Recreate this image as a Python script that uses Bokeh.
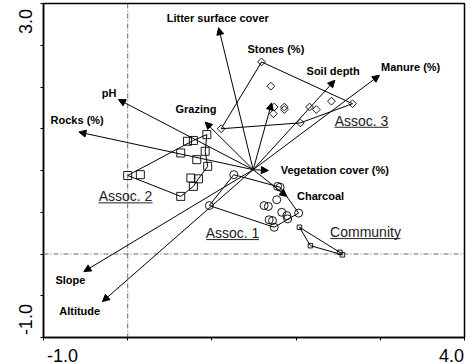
import numpy as np
from bokeh.plotting import figure
from bokeh.models import ColumnDataSource, Arrow, NormalHead, Span, FixedTicker, LinearAxis, Range1d
from bokeh.core.properties import value
from bokeh.embed import file_html
from bokeh.resources import INLINE

# ---------------- data ----------------
origin_x = 1.49
origin_y = 1.01

var_names = ["Litter surface cover", "Stones (%)", "Soil depth", "Manure (%)", "Grazing",
             "pH", "Rocks (%)", "Vegetation cover (%)", "Charcoal", "Slope", "Altitude"]
var_x = [1.08, 1.71, 2.46, 2.99, 0.92, -0.11, -0.58, 1.67, 1.89, -0.52, -0.30]
var_y = [2.71, 1.81, 2.08, 2.14, 1.58, 1.85, 1.46, 1.00, 0.69, -0.21, -0.57]
lab_x = [1.07, 1.76, 2.44, 3.36, 0.81, -0.22, -0.60, 2.46, 2.29, -0.68, -0.57]
lab_y = [2.83, 2.46, 2.19, 2.24, 1.74, 1.93, 1.60, 1.01, 0.69, -0.31, -0.68]

assoc1_x = [1.26, 0.97, 1.78, 1.81, 1.77, 1.62, 1.67, 1.83, 1.89, 1.90, 2.03, 1.68, 1.72, 1.74]
assoc1_y = [0.95, 0.58, 0.81, 0.80, 0.65, 0.58, 0.57, 0.50, 0.46, 0.42, 0.49, 0.41, 0.40, 0.32]
assoc1_hull = [0, 3, 10, 13, 1, 0]

assoc2_x = [0.00, 0.15, 0.63, 0.63, 0.71, 0.78, 0.94, 0.92, 0.82, 0.95, 0.75, 0.84, 0.78]
assoc2_y = [0.94, 0.95, 0.69, 1.21, 1.35, 1.36, 1.43, 1.23, 1.13, 1.05, 0.91, 0.90, 0.81]
assoc2_hull = [0, 5, 6, 7, 9, 11, 12, 2, 0]

assoc3_x = [1.59, 1.70, 1.74, 1.73, 1.86, 1.86, 1.11, 2.05, 2.16, 2.24, 2.42, 2.67]
assoc3_y = [2.30, 2.01, 1.76, 1.68, 1.76, 1.73, 1.50, 1.57, 1.76, 1.73, 1.83, 1.80]
assoc3_hull = [0, 11, 7, 6, 0]

comm_x = [2.04, 2.17, 2.52, 2.55]
comm_y = [0.32, 0.10, 0.02, -0.01]
comm_hull = [0, 2, 3, 1, 0]

group_names = ["Assoc. 1", "Assoc. 2", "Assoc. 3", "Community"]
group_x = [1.245, -0.026, 2.777, 2.824]
group_y = [0.25, 0.69, 1.595, 0.262]
group_w_px = [53, 54, 54, 70]

x_ticks = [-1, 0, 1, 2, 3, 4]
y_ticks = [-1, -0.5, 0, 0.5, 1, 1.5, 2, 2.5, 3]
x_end_labels = ["-1.0", "4.0"]
y_end_labels = ["-1.0", "3.0"]

# ---------------- figure ----------------
W, H = 470, 364
BL, BR, BT, BB = 43, 6, 3, 25
FONT = "Liberation Sans"
FW = W - BL - BR
FH = H - BT - BB

p = figure(width=W, height=H, x_range=(x_ticks[0], x_ticks[-1]), y_range=(y_ticks[0], y_ticks[-1]),
           output_backend="svg", toolbar_location=None,
           min_border_left=BL, min_border_right=BR, min_border_top=BT, min_border_bottom=BB)
p.xgrid.visible = False
p.ygrid.visible = False
p.background_fill_color = "white"
p.border_fill_color = "white"
p.outline_line_color = "black"
p.outline_line_width = 1.5

p.xaxis.ticker = FixedTicker(ticks=x_ticks)
p.yaxis.ticker = FixedTicker(ticks=y_ticks)
p.axis.major_label_text_font_size = "0px"
p.axis.major_label_text_color = None
p.axis.major_label_standoff = 0
p.axis.minor_tick_line_color = None
p.axis.major_tick_in = 0
p.axis.major_tick_out = 3
p.axis.axis_line_width = 1.5
p.axis.axis_line_color = "black"
p.axis.major_tick_line_color = "black"

# pixel-unit ranges for the end labels of the axes
p.extra_x_ranges = {"px": Range1d(0, FW)}
p.extra_y_ranges = {"py": Range1d(0, FH)}
xl_pos = [19, FW - 13]
yl_pos = [18, FH - 18]
ax_b = LinearAxis(x_range_name="px", ticker=FixedTicker(ticks=xl_pos),
                  major_label_overrides={k: t for k, t in zip(xl_pos, x_end_labels)})
ax_l = LinearAxis(y_range_name="py", ticker=FixedTicker(ticks=yl_pos),
                  major_label_overrides={k: t for k, t in zip(yl_pos, y_end_labels)},
                  major_label_orientation="vertical")
for ax in (ax_b, ax_l):
    ax.axis_line_color = None
    ax.major_tick_line_color = None
    ax.minor_tick_line_color = None
    ax.major_label_standoff = 2
    ax.major_label_text_font = FONT
    ax.major_label_text_font_size = "18px"
    ax.major_label_text_color = "black"
p.add_layout(ax_b, "below")
p.add_layout(ax_l, "left")

px_x = FW / (x_ticks[-1] - x_ticks[0])
px_y = FH / (y_ticks[-1] - y_ticks[0])

# reference lines
p.add_layout(Span(location=0, dimension="height", line_color="#444444", line_width=0.8, line_dash="5 2 1 2"))
p.add_layout(Span(location=0, dimension="width", line_color="#444444", line_width=0.8, line_dash="5 2 1 2"))

# hulls
for xs, ys, hull in [(assoc1_x, assoc1_y, assoc1_hull), (assoc2_x, assoc2_y, assoc2_hull),
                     (assoc3_x, assoc3_y, assoc3_hull), (comm_x, comm_y, comm_hull)]:
    p.line([xs[i] for i in hull], [ys[i] for i in hull], line_color="black", line_width=1)

# markers
p.scatter(assoc1_x, assoc1_y, marker="circle", size=8, fill_color=None, line_color="black", line_width=0.9)
p.scatter(assoc2_x, assoc2_y, marker="square", size=8, fill_color=None, line_color="black", line_width=0.9)
p.scatter(assoc3_x, assoc3_y, marker="square", angle=np.pi / 4, size=5.5, fill_color=None,
          line_color="black", line_width=0.9)
p.scatter(comm_x, comm_y, marker="square", size=4.5, fill_color=None, line_color="black", line_width=0.9)

# arrows
asrc = ColumnDataSource(dict(x0=[origin_x] * len(var_x), y0=[origin_y] * len(var_y), x1=var_x, y1=var_y))
p.add_layout(Arrow(end=NormalHead(size=7, fill_color="black", line_color="black", line_width=1),
                   x_start="x0", y_start="y0", x_end="x1", y_end="y1", source=asrc,
                   line_color="black", line_width=1))

# arrow labels
p.text(x=lab_x, y=lab_y, text=var_names, text_font=value(FONT), text_font_style="bold",
       text_font_size="11px", text_align="center", text_baseline="middle", text_color="black")

# group labels with underline
p.text(x=group_x, y=group_y, text=group_names, text_font=value(FONT), text_font_size="14px",
       text_align="center", text_baseline="middle", text_color="#222222")
hw = [w / 2.0 / px_x for w in group_w_px]
uy = [g - 6.5 / px_y for g in group_y]
p.segment(x0=[g - h for g, h in zip(group_x, hw)], x1=[g + h for g, h in zip(group_x, hw)],
          y0=uy, y1=uy, line_color="#222222", line_width=1)

open("out.html", "w").write(file_html(p, INLINE))
